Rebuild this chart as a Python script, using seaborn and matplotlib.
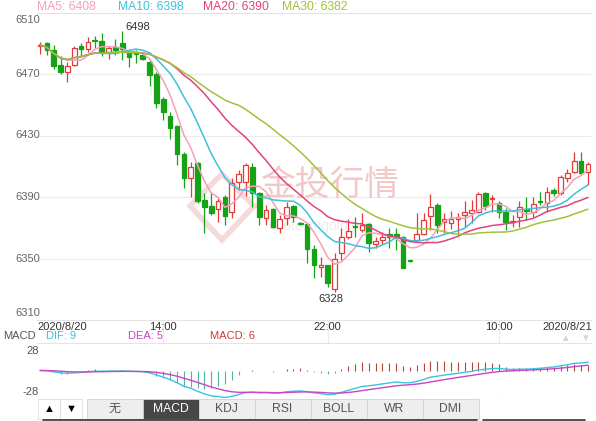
import pandas as pd
import matplotlib
matplotlib.use("Agg")
import matplotlib.pyplot as plt
import matplotlib.transforms as mtransforms
from matplotlib.patches import Rectangle, Polygon
from matplotlib.lines import Line2D
import seaborn as sns

sns.set_style("white")
plt.rcParams['font.family'] = ['Liberation Sans', 'Noto Sans CJK SC', 'DejaVu Sans']

W, H = 596, 421

# candles (81 bars, 2020/8/20 -> 2020/8/21)
opens = [6488, 6490.3, 6485.6, 6475.9, 6471, 6476, 6488, 6486, 6492, 6491.5,
         6484, 6487.4, 6490, 6484, 6483.9, 6482.4, 6478, 6470, 6454, 6443,
         6436, 6418, 6402.2, 6412, 6388, 6384, 6382.2, 6390.2, 6380, 6399.5,
         6399.8, 6409.7, 6392.4, 6376.1, 6382, 6370, 6376.1, 6384.1, 6373, 6372.4,
         6356, 6344.3, 6345.8, 6330, 6353.4, 6363.8, 6371.1, 6368.5, 6372.4, 6359.4,
         6362, 6365.7, 6366, 6363.7, 6348.6, 6362, 6366, 6377.8, 6384.8, 6374,
         6373, 6376, 6378.3, 6379.4, 6380.4, 6392.4, 6388.5, 6386.3, 6380.4, 6374,
         6376.8, 6382.2, 6380.4, 6387.6, 6386.3, 6394.6, 6392.4, 6402.2, 6406.5, 6413.6,
         6406]
highs = [6491, 6491, 6489, 6482, 6478, 6488, 6490, 6494, 6495, 6496.5,
         6488, 6492.6, 6498, 6485.8, 6485.6, 6484, 6479, 6471, 6455, 6445.5,
         6437, 6419, 6413, 6413, 6392.6, 6393.4, 6390.2, 6391, 6402.4, 6407.6,
         6412, 6412, 6393, 6384.8, 6383, 6378.3, 6387, 6384.8, 6373.5, 6373,
         6358.8, 6351.2, 6346, 6353.4, 6370, 6375.5, 6377.2, 6379.8, 6373, 6364.2,
         6367.4, 6369.6, 6369.6, 6364.5, 6348.8, 6379.4, 6379.8, 6391.8, 6386, 6379.8,
         6381, 6379.4, 6387.6, 6388, 6393.4, 6393.4, 6391.3, 6387.6, 6382.8, 6378.3,
         6387.6, 6389.8, 6389.8, 6393.4, 6396.7, 6396, 6404.3, 6408, 6419.5, 6419.5,
         6413]
lows = [6483, 6482.5, 6473, 6470, 6465, 6475, 6481, 6484, 6487, 6482,
        6479.6, 6482.4, 6479, 6474.6, 6477, 6479, 6462, 6448, 6440, 6428,
        6411, 6396, 6390.2, 6386, 6366.6, 6378.3, 6374, 6371.8, 6376.3, 6394.5,
        6390.6, 6383.7, 6371.8, 6371.8, 6369.8, 6366.6, 6371.8, 6374, 6372, 6346.9,
        6337.1, 6338.2, 6331.7, 6328, 6349, 6363, 6364.2, 6367.4, 6354.4, 6356.6,
        6359.4, 6356.6, 6355.5, 6343.5, 6348, 6361.5, 6365.3, 6368.5, 6366.4, 6366.4,
        6369, 6366.4, 6370.7, 6372.9, 6379.4, 6381.5, 6380.4, 6376.1, 6368.5, 6370.3,
        6370.3, 6375, 6376.8, 6384.8, 6380.4, 6390.8, 6391.3, 6400, 6405.4, 6405,
        6397.8]
closes = [6489, 6485.5, 6475.5, 6471.5, 6475, 6487, 6486, 6491, 6491.5, 6483.5,
          6487, 6485.6, 6486, 6481.3, 6483, 6479.6, 6469.5, 6451, 6445.5, 6435,
          6418, 6402.4, 6409.7, 6387.6, 6383.7, 6379.6, 6387.6, 6377.8, 6399, 6405,
          6410.8, 6392.4, 6377.2, 6381.5, 6370.7, 6375.5, 6383.7, 6377.2, 6372.5, 6356.2,
          6345.8, 6345.8, 6333.9, 6349.5, 6363.8, 6368, 6370.3, 6371.8, 6360.3, 6361.4,
          6364.2, 6364.2, 6364.2, 6344.1, 6348.2, 6365.7, 6375, 6383.3, 6371.8, 6375.5,
          6375.5, 6377.2, 6380, 6381.5, 6391.8, 6384.1, 6389.6, 6380.4, 6374, 6374.6,
          6383.7, 6380.7, 6385.2, 6387, 6393.4, 6392.4, 6403.2, 6405.4, 6413.6, 6405.4,
          6411.5]

time_ticks = [18, 42, 67]
time_labels = ["14:00", "22:00", "10:00"]
first_day, last_day = "2020/8/20", "2020/8/21"
price_ticks = [6510, 6470, 6430, 6390, 6350, 6310]
macd_limit = 28
ma_windows = [5, 10, 20, 30]
ma_colors = ['#f4a0ba', '#3fc0dc', '#e2437d', '#a1c23a']
macd_text = ["DIF: 9", "DEA: 5", "MACD: 6"]
tab_names = ["无", "MACD", "KDJ", "RSI", "BOLL", "WR", "DMI"]

RED, GREEN = '#e43a38', '#14a314'
GRID = '#ececec'

df = pd.DataFrame({"open": opens, "high": highs, "low": lows, "close": closes})
df["i"] = range(len(df))
for n in ma_windows:
    df[f"MA{n}"] = df["close"].rolling(n, min_periods=1).mean()
ema12 = df["close"].ewm(span=12, adjust=False).mean()
ema26 = df["close"].ewm(span=26, adjust=False).mean()
df["DIF"] = ema12 - ema26
df["DEA"] = df["DIF"].ewm(span=9, adjust=False).mean()
df["MACD"] = 2 * (df["DIF"] - df["DEA"])


def fx(px):
    return px / W


def fy(py):
    return 1 - py / H


fig = plt.figure(figsize=(W / 100, H / 100), dpi=100)
x0, x1 = 36.6, 591.4
ax = fig.add_axes([fx(x0), fy(320), (x1 - x0) / W, (320 - 12.5) / H])
axm = fig.add_axes([fx(x0), fy(398), (x1 - x0) / W, (398 - 343) / H])

for a in (ax, axm):
    a.set_xlim(-0.5, len(df) - 0.5)
    a.set_xticks([])
    a.set_yticks([])
    for s in a.spines.values():
        s.set_visible(False)
    a.spines['top'].set_visible(True)
    a.spines['top'].set_color('#e4e4e4')
    a.spines['top'].set_linewidth(0.8)
ax.spines['bottom'].set_visible(True)
ax.spines['bottom'].set_color('#e4e4e4')
ax.set_ylim(price_ticks[-1], price_ticks[0])
lim = max(macd_limit, df[["DIF", "DEA", "MACD"]].abs().max().max() + 0.5)
axm.set_ylim(-lim, lim)

for v in price_ticks[1:-1]:
    ax.axhline(v, color=GRID, lw=0.8, zorder=0)

# vertical grid running through price panel, label band and MACD panel
vt = mtransforms.blended_transform_factory(ax.transData, fig.transFigure)
for t in time_ticks:
    fig.add_artist(Line2D([t, t], [fy(13), fy(398)], transform=vt, color=GRID, lw=0.8, zorder=0))

# watermark
ax.text(fx(330), fy(186), "金投行情", transform=fig.transFigure, fontsize=25,
        color='#f3c8c8', ha='center', va='center', zorder=1,
        family=['Noto Sans CJK SC', 'DejaVu Sans'])
ax.text(fx(320), fy(226), "quote.cngold.org", transform=fig.transFigure, fontsize=10,
        color='#ececec', ha='center', va='center', zorder=1)
ax.add_patch(Polygon([(fx(222), fy(174)), (fx(254), fy(206)), (fx(222), fy(240)), (fx(190), fy(206))],
                     closed=True, transform=fig.transFigure, fill=False,
                     edgecolor='#f6dada', lw=4, zorder=1))

# candles
up = df[df["close"] >= df["open"]]
dn = df[df["close"] < df["open"]]
ax.vlines(up["i"], up["low"], up["high"], colors=RED, lw=0.9, zorder=2)
ax.vlines(dn["i"], dn["low"], dn["high"], colors=GREEN, lw=0.9, zorder=2)
ax.bar(up["i"], (up["close"] - up["open"]).clip(lower=0.5), bottom=up["open"], width=0.68,
       facecolor='white', edgecolor=RED, lw=0.9, zorder=3)
ax.bar(dn["i"], (dn["open"] - dn["close"]).clip(lower=0.5), bottom=dn["close"], width=0.68,
       facecolor=GREEN, edgecolor=GREEN, lw=0.9, zorder=3)

for n, c in zip(ma_windows, ma_colors):
    sns.lineplot(data=df, x="i", y=f"MA{n}", color=c, lw=1.1, ax=ax, zorder=4)
ax.set_xlabel("")
ax.set_ylabel("")

# max / min labels
hi_i = df["high"].idxmax()
lo_i = df["low"].idxmin()
ax.annotate(f"{df['high'].max():.0f}", (hi_i, df['high'].max()), xytext=(3, 4),
            textcoords='offset pixels', ha='left', va='center', fontsize=8, color='#333333')
ax.annotate(f"{df['low'].min():.0f}", (lo_i, df['low'].min()), xytext=(-4, -7),
            textcoords='offset pixels', ha='center', va='center', fontsize=8, color='#333333')

# price labels
yt = mtransforms.blended_transform_factory(fig.transFigure, ax.transData)
for v in price_ticks:
    va = 'center'
    dy = 0
    if v == price_ticks[0]:
        va, dy = 'top', -1.5
    elif v == price_ticks[-1]:
        va, dy = 'bottom', 1.5
    ax.text(fx(15), v + dy, str(v), transform=yt, ha='left', va=va, fontsize=8, color='#666666')

# MA header
last = df.iloc[-1]
for n, c, px in zip(ma_windows, ma_colors, [37, 118, 203, 282]):
    fig.text(fx(px), fy(6.5), f"MA{n}: {last[f'MA{n}']:.0f}", color=c, fontsize=8.7, va='center')

# time labels
fig.text(fx(37), fy(326.5), first_day, fontsize=8, color='#333333', va='center', ha='left')
fig.text(fx(592), fy(326.5), last_day, fontsize=8, color='#333333', va='center', ha='right')
for t, lab in zip(time_ticks, time_labels):
    ax.text(t, fy(326.5), lab, transform=vt, fontsize=8, color='#333333', va='center', ha='center')
fig.text(fx(565), fy(338), "▲", fontsize=7, color='#d6d6d6', ha='center', va='center')
fig.text(fx(585), fy(338), "▼", fontsize=7, color='#d6d6d6', ha='center', va='center')

# MACD panel
pos = df[df["MACD"] >= 0]
neg = df[df["MACD"] < 0]
axm.vlines(pos["i"], 0, pos["MACD"], colors='#b8443d', lw=0.8, zorder=2)
axm.vlines(neg["i"], 0, neg["MACD"], colors='#52b59a', lw=0.8, zorder=2)
sns.lineplot(data=df, x="i", y="DIF", color='#3cc3e0', lw=1.0, ax=axm, zorder=3)
sns.lineplot(data=df, x="i", y="DEA", color='#c944c6', lw=1.0, ax=axm, zorder=3)
axm.set_xlabel("")
axm.set_ylabel("")

fig.text(fx(3), fy(336), "MACD", fontsize=8, color='#555555', va='center')
for txt, c, px in zip(macd_text, ['#3cc3e0', '#c944c6', '#d23a3a'], [46, 128, 210]):
    fig.text(fx(px), fy(336), txt, fontsize=8, color=c, va='center')
fig.text(fx(39), fy(350.7), str(macd_limit), fontsize=8, color='#555555', va='center', ha='right')
fig.text(fx(39), fy(391.7), str(-macd_limit), fontsize=8, color='#555555', va='center', ha='right')

# tab bar
for k, sym in enumerate(["▲", "▼"]):
    bx = 38 + k * 22
    fig.patches.append(Rectangle((fx(bx), fy(419)), 22 / W, 20 / H, transform=fig.transFigure,
                                 facecolor='white', edgecolor='#dddddd', lw=0.6))
    fig.text(fx(bx + 11), fy(409), sym, fontsize=8, color='black', ha='center', va='center')
for k, name in enumerate(tab_names):
    bx = 86.5 + k * 56
    active = name == "MACD"
    fig.patches.append(Rectangle((fx(bx), fy(419)), 56 / W, 20 / H, transform=fig.transFigure,
                                 facecolor='#474747' if active else '#eeeeee',
                                 edgecolor='#d2d2d2', lw=0.6))
    fig.text(fx(bx + 28), fy(409), name, fontsize=8.7, ha='center', va='center',
             color='white' if active else '#555555')
fig.add_artist(Line2D([fx(43), fx(477)], [fy(420.3), fy(420.3)], color='#333333', lw=1.2))
fig.add_artist(Line2D([fx(483), fx(585)], [fy(420.3), fy(420.3)], color='#333333', lw=1.2))

fig.savefig("out.png", dpi=100)
